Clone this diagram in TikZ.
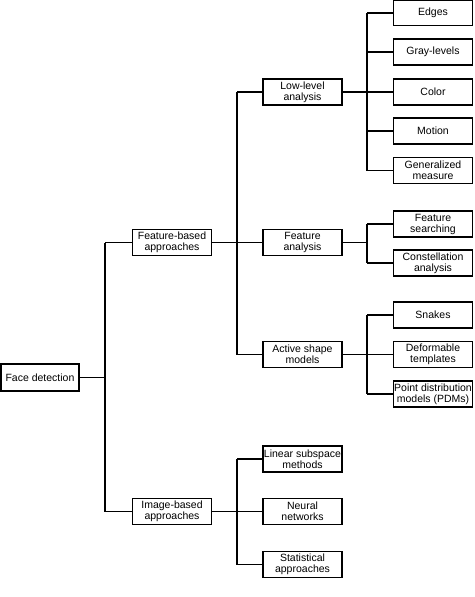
\documentclass[tikz,border=0pt]{standalone}
\usepackage{fontspec}
\setmainfont{Liberation Sans}
\usepackage{tikz}

\begin{document}
\begin{tikzpicture}[x=1pt,y=-1pt,line width=1.3pt,
  box/.style={draw,rectangle,fill=white,align=center,inner sep=1pt,minimum width=79pt,minimum height=26pt,font=\fontsize{10.5}{11}\selectfont}]
\useasboundingbox (0,0) rectangle (474,597);

\node[box,minimum width=78pt,minimum height=27pt] (F) at (40,377.5) {Face detection};

\node[box] (FB) at (172,242.5) {Feature-based\\approaches};
\node[box] (IB) at (172,511.5) {Image-based\\approaches};

\node[box] (LL) at (302.5,92) {Low-level\\analysis};
\node[box] (FA) at (302.5,242.5) {Feature\\analysis};
\node[box] (AS) at (302.5,354.5) {Active shape\\models};

\node[box] (LS) at (302.5,459) {Linear subspace\\methods};
\node[box] (NN) at (302.5,511.5) {Neural\\networks};
\node[box] (SA) at (302.5,564.5) {Statistical\\approaches};

\node[box,minimum height=25pt] (E) at (433,13) {Edges};
\node[box] (G) at (433,52) {Gray-levels};
\node[box] (C) at (433,92) {Color};
\node[box] (M) at (433,131) {Motion};
\node[box] (GM) at (433,170.5) {Generalized\\measure};

\node[box] (FS) at (433,224) {Feature\\searching};
\node[box] (CA) at (433,263) {Constellation\\analysis};

\node[box] (S) at (433,315) {Snakes};
\node[box] (DT) at (433,354.5) {Deformable\\templates};
\node[box] (PD) at (433,394) {Point distribution\\models (PDMs)};

\coordinate (j1) at (105,0);
\coordinate (j2) at (237,0);
\coordinate (j3) at (367,0);

\draw (j1 |- FB.west) -- (j1 |- IB.west);
\draw (F.east) -- (F.east -| j1);
\draw (FB.west) -- (FB.west -| j1);
\draw (IB.west) -- (IB.west -| j1);

\draw (j2 |- LL.west) -- (j2 |- AS.west);
\draw (FB.east) -- (FA.west);
\foreach \n in {LL,AS} \draw (\n.west) -- (\n.west -| j2);

\draw (j2 |- LS.west) -- (j2 |- SA.west);
\draw (IB.east) -- (NN.west);
\foreach \n in {LS,SA} \draw (\n.west) -- (\n.west -| j2);

\draw (j3 |- E.west) -- (j3 |- GM.west);
\draw (LL.east) -- (C.west);
\foreach \n in {E,G,M,GM} \draw (\n.west) -- (\n.west -| j3);

\draw (j3 |- FS.west) -- (j3 |- CA.west);
\draw (FA.east) -- (FA.east -| j3);
\foreach \n in {FS,CA} \draw (\n.west) -- (\n.west -| j3);

\draw (j3 |- S.west) -- (j3 |- PD.west);
\draw (AS.east) -- (DT.west);
\foreach \n in {S,PD} \draw (\n.west) -- (\n.west -| j3);
\end{tikzpicture}
\end{document}
